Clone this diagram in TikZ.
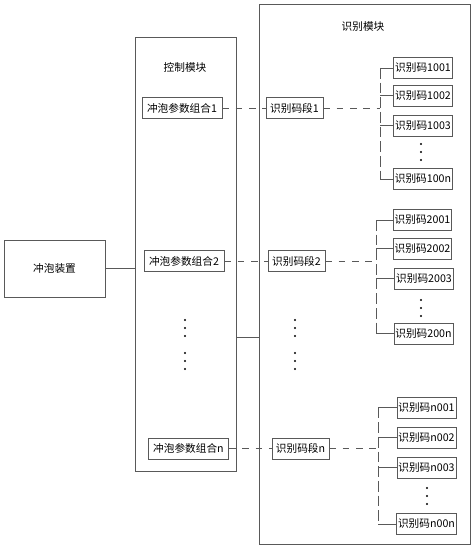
\documentclass[tikz,border=0pt]{standalone}
\usepackage{fontspec}
\newfontfamily\cjk{Noto Sans CJK SC}
\usetikzlibrary{positioning}
\tikzset{x=0.75pt,y=-0.75pt,
box/.style={draw=black!65,line width=0.6pt,inner sep=1pt,font=\cjk\fontsize{8}{9.6}\selectfont},
title/.style={inner sep=1pt,font=\cjk\fontsize{8}{9.6}\selectfont},
combo/.style={box,minimum width=60pt,minimum height=15.75pt},
seg/.style={box,minimum width=42.75pt,minimum height=15.75pt},
code/.style={box,minimum width=43.5pt,minimum height=15.75pt},
link/.style={draw=black!65,line width=0.6pt},
dlink/.style={link,dash pattern=on 5pt off 5pt},
bus/.style={link,dash pattern=on 8pt off 3pt},
vdots/.style={line width=1.6pt,line cap=round,dash pattern=on 0pt off 6pt}
}
\begin{document}
\begin{tikzpicture}
\useasboundingbox (0,0) rectangle (474,549);
% modules
\node[box,minimum width=75.75pt,minimum height=42.75pt] (dev) at (54.5,268.5) {冲泡装置};
\node[box,minimum width=75.75pt,minimum height=325.5pt] (ctl) at (185.5,254) {};
\node[box,minimum width=158.25pt,minimum height=405pt] (rec) at (364.5,274) {};
\node[title] (ctlt) at (185,67) {控制模块};
\node[title] (rect) at (363,26) {识别模块};
% parameter sets and code segments
\node[combo] (c1) at (182,108) {冲泡参数组合1};
\node[combo] (c2) at (184,261) {冲泡参数组合2};
\node[combo] (cn) at (188.5,448.5) {冲泡参数组合n};
\node[seg] (s1) at (294.5,108) {识别码段1};
\node[seg] (s2) at (296.5,261) {识别码段2};
\node[seg] (sn) at (300.5,448.5) {识别码段n};
% codes
\node[code] (k11) at (423,68) {识别码1001};
\node[code] (k12) at (423,95.5) {识别码1002};
\node[code] (k13) at (423,125.5) {识别码1003};
\node[code] (k1n) at (423,179) {识别码100n};
\node[code] (k21) at (422.5,220) {识别码2001};
\node[code] (k22) at (422.5,248.5) {识别码2002};
\node[code] (k23) at (424,278.5) {识别码2003};
\node[code] (k2n) at (423.5,333.5) {识别码200n};
\node[code] (kn1) at (426.5,407.5) {识别码n001};
\node[code] (kn2) at (426.5,437.5) {识别码n002};
\node[code] (kn3) at (426.5,467.5) {识别码n003};
\node[code] (knn) at (426.5,524) {识别码n00n};
\coordinate (j) at (236,337);
\coordinate (b1) at (380,108);
\coordinate (b2) at (376,261);
\coordinate (bn) at (378,448.5);
% links
\draw[link] (dev.east) -- (dev.east -| ctl.west);
\draw[link] (j -| ctl.east) -- (j -| rec.west);
\draw[dlink] (c1) -- (s1);
\draw[dlink] (s1) -- (b1);
\draw[dlink] (c2) -- (s2);
\draw[dlink] (s2) -- (b2);
\draw[dlink] (cn) -- (sn);
\draw[dlink] (sn) -- (bn);
\draw[bus] (b1 |- k11.west) -- (b1 |- k1n.west);
\draw[bus] (b2 |- k21.west) -- (b2 |- k2n.west);
\draw[bus] (bn |- kn1.west) -- (bn |- knn.west);
\draw[link] (b1 |- k11.west) -- (k11.west);
\draw[link] (b1 |- k12.west) -- (k12.west);
\draw[link] (b1 |- k13.west) -- (k13.west);
\draw[link] (b1 |- k1n.west) -- (k1n.west);
\draw[link] (b2 |- k21.west) -- (k21.west);
\draw[link] (b2 |- k22.west) -- (k22.west);
\draw[link] (b2 |- k23.west) -- (k23.west);
\draw[link] (b2 |- k2n.west) -- (k2n.west);
\draw[link] (bn |- kn1.west) -- (kn1.west);
\draw[link] (bn |- kn2.west) -- (kn2.west);
\draw[link] (bn |- kn3.west) -- (kn3.west);
\draw[link] (bn |- knn.west) -- (knn.west);
% dots
\draw[vdots] (185,320) -- (185,336.5) (185,353) -- (185,369.5);
\draw[vdots] (295,320) -- (295,336.5) (295,353) -- (295,369.5);
\draw[vdots] (421,144) -- (421,160.5);
\draw[vdots] (421,300) -- (421,316.5);
\draw[vdots] (427,488) -- (427,504.5);
\end{tikzpicture}
\end{document}
